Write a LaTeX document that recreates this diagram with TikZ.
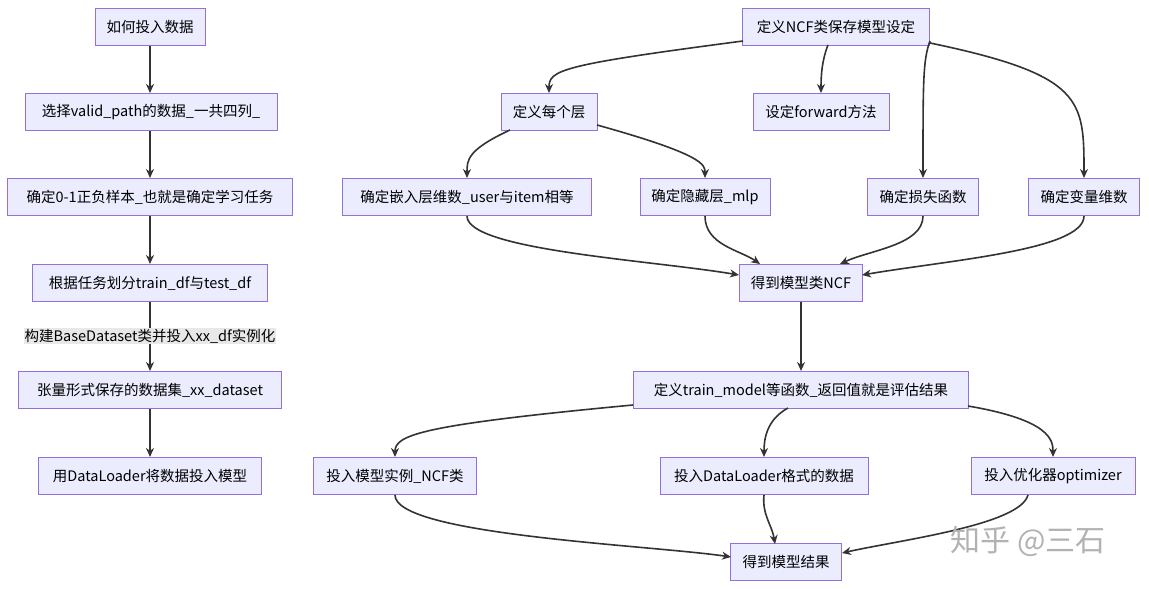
\documentclass[tikz,border=0pt]{standalone}
\usepackage{fontspec}
\setmainfont{Noto Sans CJK SC}
\usetikzlibrary{arrows.meta}
\begin{document}
\begin{tikzpicture}[x=1pt,y=-1pt,
  box/.style={draw=#1,fill=boxfill,line width=1pt,minimum height=37pt,inner sep=0pt,font=\fontsize{14.5}{16}\selectfont},
  box/.default=boxline,
  arr/.style={draw=lc,line width=1.6pt,-{Stealth[length=9pt,width=8pt]}},
  ln/.style={draw=lc,line width=1.6pt}]
\definecolor{boxfill}{HTML}{ECECFF}
\definecolor{boxline}{HTML}{9370DB}
\definecolor{lc}{HTML}{333333}
\definecolor{lblbg}{HTML}{E8E8E8}
\useasboundingbox (0,0) rectangle (1149,589);
\fill[white] (0,0) rectangle (1149,589);
% left column
\node[box,minimum width=110pt] (n1) at (150,27) {如何投入数据};
\node[box,minimum width=252pt] (n2) at (151,112) {选择valid\_path的数据\_一共四列\_};
\node[box,minimum width=285pt] (n3) at (150,197) {确定0-1正负样本\_也就是确定学习任务};
\node[box,minimum width=235pt] (n4) at (150,283) {根据任务划分train\_df与test\_df};
\node[fill=lblbg,inner sep=1pt,font=\fontsize{14.5}{16}\selectfont] (lb) at (150,336) {构建BaseDataset类并投入xx\_df实例化};
\node[box,minimum width=263pt] (n5) at (150,390) {张量形式保存的数据集\_xx\_dataset};
\node[box,minimum width=223pt] (n6) at (150,476) {用DataLoader将数据投入模型};
\draw[arr] (n1.south) -- (n1.south|-n2.north);
\draw[arr] (n1.south|-n2.south) -- (n1.south|-n3.north);
\draw[arr] (n3) -- (n4);
\draw[ln] (n4) -- (lb);
\draw[arr] (lb) -- (n5);
\draw[arr] (n5) -- (n6);
% right part
\node[box,minimum width=187pt] (A) at (836,27) {定义NCF类保存模型设定};
\node[box,minimum width=96pt] (B) at (549,112) {定义每个层};
\node[box,minimum width=136pt] (C) at (821,112) {设定forward方法};
\node[box,minimum width=249pt] (D) at (467,197) {确定嵌入层维数\_user与item相等};
\node[box,minimum width=130pt] (E) at (705,197) {确定隐藏层\_mlp};
\node[box,minimum width=111pt] (F) at (923,197) {确定损失函数};
\node[box,minimum width=111pt] (G) at (1084,197) {确定变量维数};
\node[box,minimum width=123pt] (H) at (801,283) {得到模型类NCF};
\node[box,minimum width=335pt] (I) at (801,390) {定义train\_model等函数\_返回值就是评估结果};
\node[box,minimum width=163pt] (J) at (395,476) {投入模型实例\_NCF类};
\node[box,minimum width=208pt] (K) at (764,476) {投入DataLoader格式的数据};
\node[box,minimum width=164pt] (L) at (1053,476) {投入优化器optimizer};
\node[box,minimum width=111pt] (M) at (786,562) {得到模型结果};
\coordinate (a1) at (743,41);
\coordinate (a2) at (828,45);
\coordinate (a3) at (930,41);
\coordinate (a4) at (930,43);
\draw[arr] (a1) .. controls (560,65) and (549,70) .. (B.north);
\draw[arr] (a2) .. controls (822,60) and (821,75) .. (C.north);
\draw[arr] (a3) .. controls (923,60) and (923,80) .. (F.north);
\draw[arr] (a4) .. controls (1084,75) and (1084,100) .. (G.north);
\coordinate (b1) at (510,130);
\coordinate (b2) at (597,125);
\draw[arr] (b1) .. controls (467,150) and (467,160) .. (D.north);
\draw[arr] (b2) .. controls (705,155) and (705,165) .. (E.north);
\coordinate (h1) at (739,275);
\coordinate (h2) at (760,264);
\coordinate (h3) at (840,264);
\coordinate (h4) at (862,275);
\draw[arr] (D.south) .. controls (467,250) and (650,260) .. (h1);
\draw[arr] (E.south) .. controls (705,245) and (740,250) .. (h2);
\draw[arr] (F.south) .. controls (923,245) and (870,250) .. (h3);
\draw[arr] (G.south) .. controls (1084,250) and (950,260) .. (h4);
\draw[arr] (H) -- (I);
\coordinate (i1) at (633,405);
\coordinate (i2) at (788,408);
\coordinate (i3) at (968,406);
\draw[arr] (i1) .. controls (420,425) and (395,435) .. (J.north);
\draw[arr] (i2) .. controls (766,420) and (764,440) .. (K.north);
\draw[arr] (i3) .. controls (1050,420) and (1053,440) .. (L.north);
\coordinate (m1) at (731,557);
\coordinate (m2) at (775,544);
\coordinate (m3) at (842,553);
\coordinate (l1) at (1028,495);
\draw[arr] (J.south) .. controls (395,535) and (650,545) .. (m1);
\draw[arr] (K.south) .. controls (762,515) and (772,525) .. (m2);
\draw[arr] (l1) .. controls (1020,525) and (900,540) .. (m3);
\node[text=black!30,font=\fontsize{30}{34}\selectfont] (wm) at (1028,541) {知乎 @三石};
\end{tikzpicture}
\end{document}
